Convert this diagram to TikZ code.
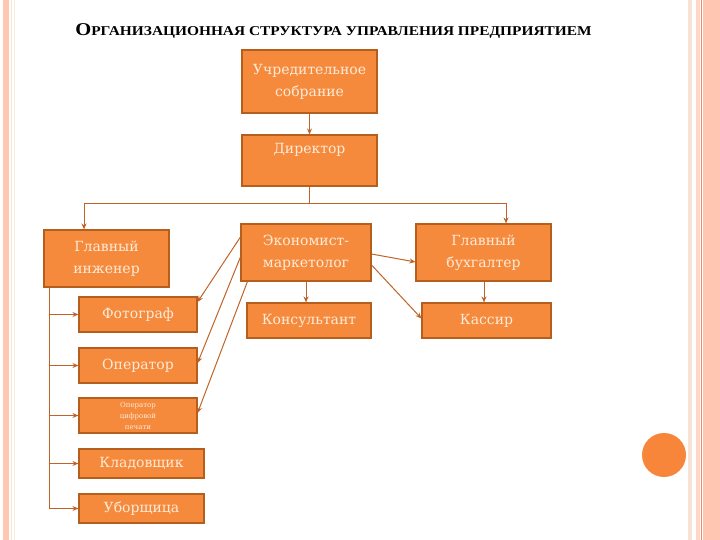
\documentclass[tikz,border=0pt]{standalone}
\usepackage{fontspec}
\setmainfont{DejaVu Serif}
\newfontfamily\titlefont{Liberation Serif}
\usetikzlibrary{arrows.meta,calc}
\definecolor{boxfill}{HTML}{F58A3D}
\definecolor{boxline}{HTML}{B45F1E}
\definecolor{boxtext}{HTML}{FDEBD8}
\definecolor{conn}{HTML}{BF6328}
\definecolor{pinkband}{HTML}{FFC6B1}
\definecolor{pinkline}{HTML}{EE8866}
\definecolor{paleA}{HTML}{F7E2D6}
\definecolor{paleB}{HTML}{F6F0D6}
\definecolor{dot}{HTML}{F7863A}
\tikzset{
  orgbox/.style={draw=boxline, fill=boxfill, line width=1.1pt, text=boxtext,
    align=center, inner sep=1pt, font=\fontsize{14}{22}\selectfont},
  conline/.style={draw=conn, line width=1pt},
  conarrow/.style={conline, -{Stealth[length=6pt,width=5pt]}},
}
\begin{document}
\begin{tikzpicture}[x=1pt,y=-1pt]
\useasboundingbox (0,0) rectangle (720,540);
% borders
\fill[pinkband] (3,0) rectangle (9,540);
\draw[paleA, line width=1pt] (11.5,0) -- (11.5,540);
\draw[paleB, line width=1pt] (14,0) -- (14,540);
\fill[paleA] (688,0) rectangle (692,540);
\fill[pinkband!70!white] (696,0) rectangle (700,540);
\draw[pinkline, line width=1.2pt] (701.5,0) -- (701.5,540);
\fill[pinkband] (702.5,0) rectangle (720,540);
\fill[dot] (664,455) circle (22);
% title
\node (title) at (333.5,31) {\scalebox{1.14}[1]{\titlefont\bfseries\fontsize{18}{18}\selectfont О\fontsize{13.5}{13.5}\selectfont РГАНИЗАЦИОННАЯ СТРУКТУРА УПРАВЛЕНИЯ ПРЕДПРИЯТИЕМ}};
% boxes
\node[orgbox, minimum width=135pt, minimum height=63pt] (uch) at (309.5,81.5) {Учредительное\\собрание};
\node[orgbox, minimum width=135pt, minimum height=51pt, text height=10pt, text depth=24pt] (dir) at (309.5,160.5) {Директор};
\node[orgbox, minimum width=125pt, minimum height=57pt] (gi) at (106.5,258.5) {Главный\\инженер};
\node[orgbox, minimum width=130pt, minimum height=57pt] (eco) at (306,252.5) {Экономист-\\маркетолог};
\node[orgbox, minimum width=135pt, minimum height=57pt] (gb) at (483.5,252.5) {Главный\\бухгалтер};
\node[orgbox, minimum width=118pt, minimum height=35pt] (foto) at (138,314.5) {Фотограф};
\node[orgbox, minimum width=124pt, minimum height=35pt] (kons) at (309,320.5) {Консультант};
\node[orgbox, minimum width=129pt, minimum height=35pt] (kas) at (486.5,320.5) {Кассир};
\node[orgbox, minimum width=118pt, minimum height=35pt] (op) at (138,365.5) {Оператор};
\node[orgbox, minimum width=118pt, minimum height=35pt, font=\fontsize{7}{11}\selectfont] (opc) at (138,415.5) {Оператор\\цифровой\\печати};
\node[orgbox, minimum width=125pt, minimum height=29pt] (klad) at (141.5,463.5) {Кладовщик};
\node[orgbox, minimum width=125pt, minimum height=29pt] (ub) at (141.5,508.5) {Уборщица};
% connectors
\draw[conarrow] (uch.south) -- (dir.north);
\draw[conline] (dir.south) -- ++(0,17) coordinate (bus);
\draw[conarrow] (bus) -| ([xshift=-22.5pt]gi.north);
\draw[conarrow] (bus) -| ([xshift=22.5pt]gb.north);
\coordinate (spine) at ([xshift=6pt]gi.south west);
\draw[conarrow] (spine) |- (ub.west);
\draw[conarrow] (spine |- foto.west) -- (foto.west);
\draw[conarrow] (spine |- op.west) -- (op.west);
\draw[conarrow] (spine |- opc.west) -- (opc.west);
\draw[conarrow] (spine |- klad.west) -- (klad.west);
\draw[conarrow] (eco.south) -- (eco.south |- kons.north);
\draw[conarrow] ([xshift=0.5pt]gb.south) -- ([xshift=0.5pt]gb.south |- kas.north);
\draw[conarrow] ([yshift=-1.5pt]eco.east) -- ([yshift=-9.5pt]gb.west);
\draw[conarrow] ([yshift=-12.5pt]eco.east) -- ([yshift=2pt]kas.west);
\draw[conarrow] ([yshift=15.5pt]eco.west) -- ([yshift=12.5pt]foto.east);
\draw[conarrow] ([yshift=-4.5pt]eco.west) -- ([yshift=2.5pt]op.east);
\draw[conarrow] ([xshift=7pt]eco.south west) -- ([yshift=2.5pt]opc.east);
\end{tikzpicture}
\end{document}
